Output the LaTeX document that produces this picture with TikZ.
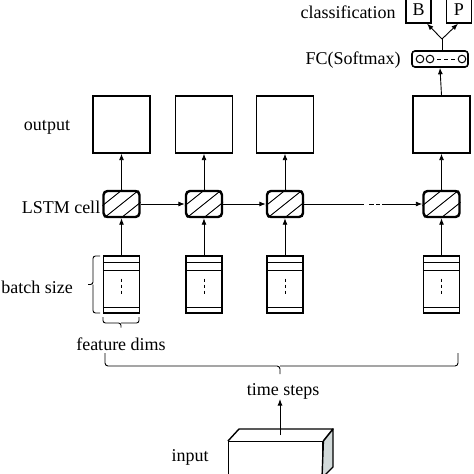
\documentclass[tikz,border=0pt]{standalone}
\usepackage{fontspec}
\setmainfont{Liberation Serif}
\usetikzlibrary{arrows.meta,calc}
\begin{document}
\begin{tikzpicture}[x=1pt,y=-1pt,
  font=\fontsize{18}{20}\selectfont,
  outbox/.style={draw, line width=1.3pt, minimum width=57pt, minimum height=57pt, inner sep=0pt},
  cellbox/.style={draw, line width=2.4pt, rounded corners=4pt, minimum width=36pt, minimum height=26pt, inner sep=0pt},
  databox/.style={draw, line width=1.4pt, minimum width=36pt, minimum height=57pt, inner sep=0pt},
  smallbox/.style={draw, line width=1.3pt, minimum width=25pt, minimum height=26pt, inner sep=0pt},
  fcbox/.style={draw, line width=1.6pt, rounded corners=3pt, minimum width=56pt, minimum height=16pt, inner sep=0pt},
  lbl/.style={inner sep=0pt},
  arr/.style={-{Latex[length=6.5pt,width=5pt]}, line width=0.9pt},
  ln/.style={line width=0.9pt}]
\useasboundingbox (0,0) rectangle (474,474);

% columns
\foreach \i/\x in {1/121.5,2/204,3/285,4/441.5}{
  \node[outbox] (o\i) at (\x,124.5) {};
  \node[cellbox] (c\i) at (\x,204) {};
  \node[databox] (d\i) at (\x,284.5) {};
  \begin{scope}
    \clip[rounded corners=4pt] (c\i.south west) rectangle (c\i.north east);
    \foreach \o in {-17,0,17}
      \draw[ln] ([shift={(-30+\o,24)}]c\i.center) -- ([shift={(30+\o,-24)}]c\i.center);
  \end{scope}
  \draw[ln] ($(d\i.north west)+(0,7)$) -- ($(d\i.north east)+(0,7)$);
  \draw[ln] ($(d\i.north west)+(0,15)$) -- ($(d\i.north east)+(0,15)$);
  \draw[ln] ($(d\i.south west)+(0,-6)$) -- ($(d\i.south east)+(0,-6)$);
  \draw[line width=0.9pt, dash pattern=on 3pt off 3pt] ($(d\i.center)+(0,-6)$) -- ($(d\i.center)+(0,11)$);
  \draw[arr] (c\i.north) -- (o\i.south);
  \draw[arr] (d\i.north) -- (c\i.south);
}

% recurrent connections
\draw[arr] (c1.east) -- (c2.west);
\draw[arr] (c2.east) -- (c3.west);
\coordinate (m1) at (353,204);
\coordinate (m2) at (382,204);
\draw[ln] (c3.east) -- (m1);
\draw[ln, dash pattern=on 11pt off 5pt on 5pt off 2pt on 4pt off 2pt] (m1) -- (m2);
\draw[arr] (m2) -- (c4.west);

% labels
\node[lbl] (tout) at (47,127) {output};
\node[lbl] (tlstm) at (61,207) {LSTM cell};
\node[lbl] (tbatch) at (37,287) {batch size};
\node[lbl] (tfeat) at (121,344) {feature dims};
\node[lbl] (tts) at (283,391) {time steps};
\node[lbl] (tin) at (190,457) {input};

% braces
\draw[ln, rounded corners=2.5pt] (100,256) -| (93,284.5) -- (88,284.5);
\draw[ln, rounded corners=2.5pt] (100,313) -| (93,284.5);
\draw[ln, rounded corners=2.5pt] (103,317) |- (121,323) -- (121,327.5);
\draw[ln, rounded corners=2.5pt] (139,317) |- (121,323);
\draw[ln, rounded corners=3pt] (105,353) |- (280,366) -- (280,374);
\draw[ln, rounded corners=3pt] (458,353) |- (280,366);

% input block
\node[draw, line width=1.4pt, minimum width=94pt, minimum height=45pt, inner sep=0pt, anchor=north west] (inp) at (228,441) {};
\draw[line width=1.4pt, line join=round] (inp.north west) -- (239,429) -- (333,429) -- (inp.north east);
\draw[line width=1.4pt, line join=round, fill={rgb,255:red,210;green,218;blue,218}] (inp.north east) -- (333,429) -- (333,467) -- (322,478) -- cycle;
\coordinate (itop) at (280,435);
\draw[arr] (itop) -- (tts.south -| itop);

% FC and classification
\node[fcbox] (fc) at (440,59) {};
\foreach \cx in {420,430,462}
  \draw[line width=1pt] (\cx,59) circle (3.8pt);
\draw[line width=1pt, dash pattern=on 4pt off 3pt] (437,59) -- (455,59);
\draw[arr] (o4.north) -- (fc.south);
\node[lbl] (tfc) at (353,60) {FC(Softmax)};

\node[smallbox] (bb) at (418.5,10) {B};
\node[smallbox] (pb) at (459,10) {P};
\coordinate (br) at (442,39);
\draw[ln] (fc.north -| br) -- (br);
\draw[arr] (br) -- (bb.south -| 427,0);
\draw[arr] (br) -- (pb.south -| 458,0);
\node[lbl] (tcls) at (348,12) {classification};
\end{tikzpicture}
\end{document}
